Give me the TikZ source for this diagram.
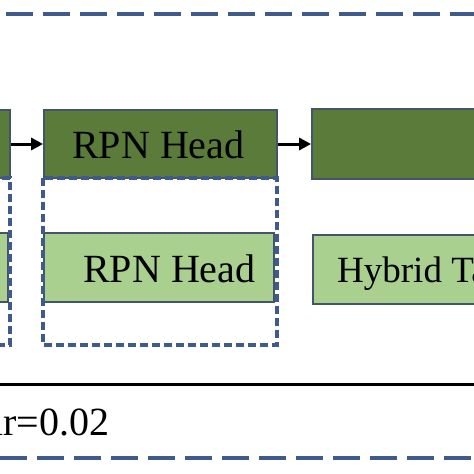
\documentclass[tikz,border=0pt]{standalone}
\usepackage{fontspec}
\setmainfont{Liberation Serif}
\usetikzlibrary{arrows.meta}
\definecolor{dkgreen}{HTML}{5B7B3B}
\definecolor{ltgreen}{HTML}{A9D08E}
\definecolor{boxedge}{HTML}{44546A}
\definecolor{dashblue}{HTML}{3F5A8C}
\tikzset{
  darkbox/.style={draw=boxedge, line width=1.8pt, fill=dkgreen, inner sep=0pt},
  lightbox/.style={draw=boxedge, line width=1.8pt, fill=ltgreen, inner sep=0pt},
  groupbox/.style={draw=dashblue, line width=3.2pt, dash pattern=on 8pt off 4pt},
  bigdash/.style={draw=dashblue, line width=3.6pt, dash pattern=on 27pt off 10pt},
  flow/.style={-{Triangle[length=12pt,width=12pt]}, line width=3pt, black},
  lbl/.style={font=\fontsize{40}{44}\selectfont, inner sep=0pt}
}
\begin{document}
\begin{tikzpicture}[x=1pt,y=-1pt]
\useasboundingbox (0,0) rectangle (474,474);
\fill[white] (0,0) rectangle (474,474);
% top / bottom dashed border
\coordinate (t1) at (6,14); \coordinate (t2) at (500,14);
\draw[bigdash] (t1) -- (t2);
\coordinate (b1) at (0,458); \coordinate (b2) at (500,458);
\draw[bigdash] (b1) -- (b2);
% dark boxes
\node[darkbox, minimum width=40pt, minimum height=68pt] (d0) at (-10,144) {};
\node[darkbox, minimum width=233pt, minimum height=68pt] (d1) at (160.5,144) {};
\node[darkbox, minimum width=200pt, minimum height=70pt] (d2) at (412,144) {};
\node[lbl, anchor=base west] (t1l) at (72,158) {RPN Head};
% light boxes
\node[lightbox, minimum width=40pt, minimum height=69pt] (l0) at (-12,267.5) {};
\node[lightbox, minimum width=230pt, minimum height=69pt] (l1) at (159,267.5) {};
\node[lightbox, minimum width=200pt, minimum height=69pt] (l2) at (413,269.5) {};
\node[lbl, anchor=base west] (t2l) at (83,282) {RPN Head};
\node[lbl, font=\fontsize{37}{42}\selectfont, anchor=base west] (t3l) at (337,282) {Hybrid Ta};
% dashed group boxes
\draw[groupbox] (-40,178) rectangle (10,345);
\draw[groupbox] (43,178) rectangle (277,345);
% arrows
\draw[flow] (d0.east) -- (d1.west);
\draw[flow] (d1.east) -- (d2.west);
% black rule and text
\coordinate (r1) at (0,384); \coordinate (r2) at (474,384);
\draw[line width=3pt, black] (r1) -- (r2);
\node[lbl, anchor=base west] (lr) at (-8,435) {lr=0.02};
\end{tikzpicture}
\end{document}
